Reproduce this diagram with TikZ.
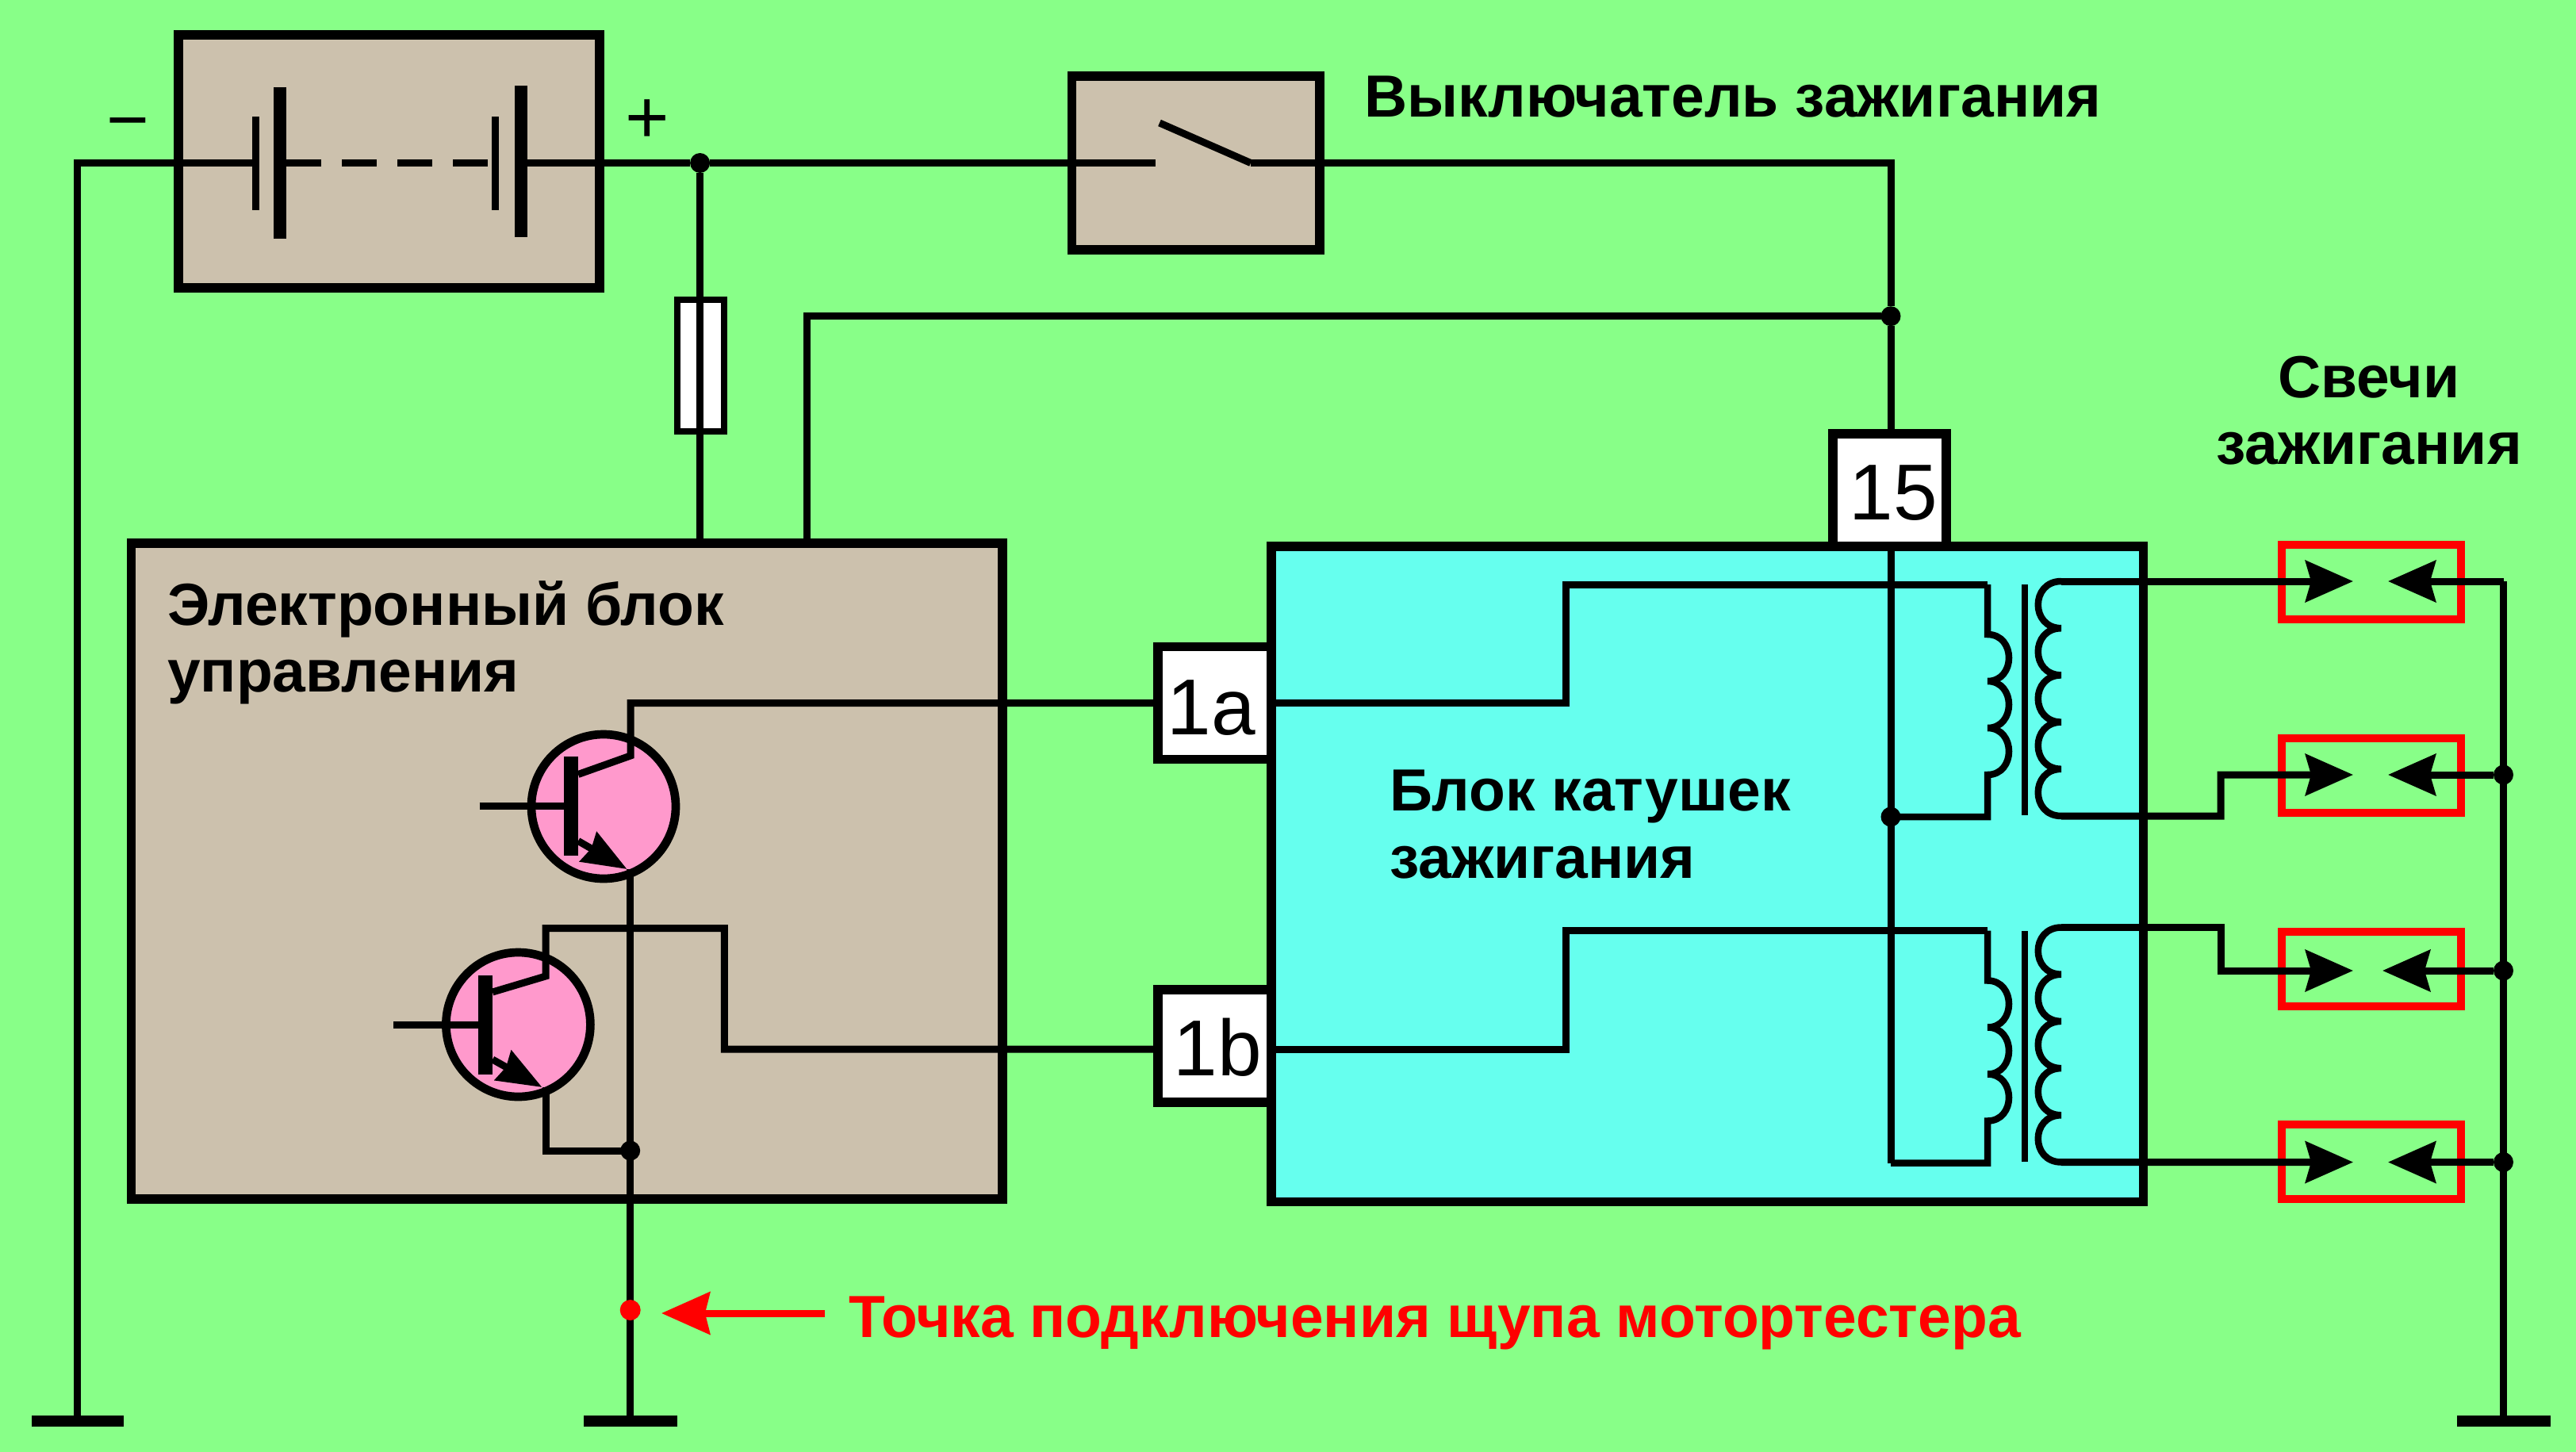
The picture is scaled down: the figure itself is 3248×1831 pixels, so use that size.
\documentclass[tikz,border=0pt]{standalone}
\usepackage{fontspec}
\setmainfont{Liberation Sans}
\usetikzlibrary{positioning}
\usetikzlibrary{arrows.meta}
\usepackage{xcolor}
\definecolor{bggreen}{RGB}{136,255,136}
\definecolor{tanbox}{RGB}{204,193,173}
\definecolor{coilblue}{RGB}{102,255,238}
\definecolor{npnpink}{RGB}{255,153,204}
\tikzset{
    wire/.style={draw, line width=9pt},
    coil/.style={draw, line width=8.5pt},
    tanblock/.style={draw, rectangle, line width=11.7pt, fill=tanbox, inner sep=0pt, outer sep=0pt},
    pinbox/.style={draw, rectangle, line width=11.7pt, fill=white, minimum width=143pt, minimum height=142pt, inner sep=0pt, outer sep=0pt, font=\fontsize{100}{100}\selectfont},
    plate/.style={rectangle, fill=black, inner sep=0pt, outer sep=0pt},
    joint/.style={circle, fill=black, minimum size=25pt, inner sep=0pt, outer sep=0pt},
    npn/.style={draw, circle, line width=10.7pt, fill=npnpink, minimum size=182pt, inner sep=0pt, outer sep=0pt},
    gapbox/.style={draw=red, rectangle, line width=9.5pt, minimum width=226pt, minimum height=94pt, inner sep=0pt, outer sep=0pt},
    gaptip/.style={-{Stealth[length=60pt, width=52pt, inset=7pt]}},
    npntip/.style={-{Stealth[length=56pt, width=42pt, inset=4pt]}},
    caption/.style={inner sep=0pt, outer sep=0pt, font=\fontsize{75}{85}\selectfont\bfseries}
}
\begin{document}
\begin{tikzpicture}[x=1pt, y=-1pt]
    \fill[bggreen] (0,0) rectangle (3248,1831);
    \useasboundingbox (0,0) rectangle (3248,1831);

    % Blocks
    \node (battery) [tanblock, minimum width=531pt, minimum height=319pt] at (490.5,203.5) {};
    \node (switch) [tanblock, minimum width=312.5pt, minimum height=219pt] at (1507.8,205.5) {};
    \node (ecu) [tanblock, minimum width=1098.5pt, minimum height=827pt] at (714.75,1098.5) {};
    \node (coils) [tanblock, fill=coilblue, minimum width=1099.5pt, minimum height=826.5pt] at (2152.75,1102.25) {};
    \node (fuse) [draw, rectangle, line width=8.3pt, fill=white, minimum width=59pt, minimum height=166pt, inner sep=0pt, outer sep=0pt] at (883.25,461) {};

    % Battery cells
    \node (cellaneg) [plate, minimum width=9pt, minimum height=118pt] at (322.7,205.5) {};
    \node (cellapos) [plate, minimum width=16.5pt, minimum height=191pt] at (353,205.5) {};
    \node (cellbneg) [plate, minimum width=9pt, minimum height=118pt] at (624,205.5) {};
    \node (cellbpos) [plate, minimum width=16.5pt, minimum height=191pt] at (657,203) {};

    % Ground bars and junctions
    \node (gndleft) [plate, minimum width=116pt, minimum height=14pt] at (97.6,1792) {};
    \node (gndmid) [plate, minimum width=118pt, minimum height=14pt] at (794.7,1792) {};
    \node (gndright) [plate, minimum width=118pt, minimum height=14pt] at (3156.5,1792) {};
    \node (jplus) [joint] at (882.6,205.5) {};
    \node (jsupply) [joint] at (2384,398.7) {};
    \node (jprim) [joint] at (2384,1030) {};
    \coordinate (jemit) at (794.7,1451);
    \coordinate (probe) at (794.7,1652);

    % Battery and supply wiring
    \draw[wire] (gndleft.center) |- (cellaneg.west);
    \draw[wire, dash pattern=on 44pt off 26pt] (cellapos.east) -- (cellapos.east -| cellbneg.west);
    \draw[wire] (cellbpos.east |- jplus) -- (jplus);
    \coordinate (swleft) at (1457,205.5);
    \coordinate (swright) at (1577,205.5);
    \coordinate (swarm) at (1462,155);
    \draw[wire] (jplus) -- (swleft);
    \draw[wire] (swright) -- (swarm);
    \draw[wire] (swright) -| (jsupply);
    \draw[wire] (jplus) -- (jplus |- ecu.north);
    \coordinate (ecufeed) at (1017,685);
    \draw[wire] (ecufeed) |- (jsupply);

    % Spark gaps
    \foreach \n/\yb/\yw/\xr in {1/734/733/3011, 2/978/977/3011, 3/1222/1224/3004, 4/1465/1465.5/3011} {
        \node (gap\n) [gapbox] at (2990,\yb) {};
        \coordinate (gapl\n) at (2967,\yw);
        \coordinate (gapr\n) at (\xr,\yw);
    }

    % Ignition transformers
    \foreach \t/\dy in {a/0, b/436.5} {
        \node (core\t) [plate, minimum width=8.7pt, minimum height=291pt] at (2553,882.5+\dy) {};
        \coordinate (prim\t) at (2506,737+\dy);
        \coordinate (primend\t) at (2384,1030+\dy);
        \coordinate (sec\t) at (2599,733+\dy);
        \draw[coil] (prim\t) -- (2506,800+\dy)
            \foreach \k in {0,1,2} {
                .. controls (2542,{800+\dy+59*\k}) and (2542,{859+\dy+59*\k}) .. (2506,{859+\dy+59*\k})
            }
            -- (2506,1030+\dy) -- (primend\t);
        \draw[coil] (sec\t)
            \foreach \k in {0,1,2,3,4} {
                .. controls (2560,{733+\dy+59.2*\k}) and (2560,{792.2+\dy+59.2*\k}) .. (2599,{792.2+\dy+59.2*\k})
            }
            coordinate (secend\t);
    }

    % Secondary wiring to the plugs
    \coordinate (kinka) at (2800,1029);
    \coordinate (kinkb) at (2800,1169.5);
    \draw[wire, gaptip] (seca) -- (gapl1);
    \draw[wire, gaptip] (secenda) -- (kinka) |- (gapl2);
    \draw[wire, gaptip] (secb) -- (kinkb) |- (gapl3);
    \draw[wire, gaptip] (secendb) -- (gapl4);
    \draw[wire] (gndright.center) -- (gndright.center |- gapr1);
    \draw[wire, gaptip] (gndright.center |- gapr1) -- (gapr1);
    \foreach \n in {2,3,4} {
        \node (jgap\n) [joint] at (gndright.center |- gapr\n) {};
        \draw[wire, gaptip] (jgap\n) -- (gapr\n);
    }

    % Upper transistor
    \node (npna) [npn] at (761,1017) {};
    \node (bara) [plate, minimum width=18pt, minimum height=125pt] at (720,1016.5) {};
    \coordinate (basea) at (604.5,1016.5);
    \coordinate (colla) at (795,953);
    \coordinate (emita) at (790.6,1096);
    \coordinate (emitwire) at (794.7,1096);

    % Lower transistor
    \node (npnb) [npn] at (653.4,1292) {};
    \node (barb) [plate, minimum width=18pt, minimum height=125pt] at (612,1292) {};
    \coordinate (baseb) at (496.4,1292);
    \coordinate (collb) at (688,1231);
    \coordinate (emitb) at (683.5,1371);
    \coordinate (emitbwire) at (688,1371);
    \coordinate (collcross) at (913.4,1170.5);
    \coordinate (collturn) at (913.4,1323);

    % Pins
    \node (pinfifteen) [pinbox, text height=76pt] at (2382.5,618.25) {\hspace{10pt}15};
    \node (pina) [pinbox, text height=81pt] at (1531.5,886.5) {\hspace{-8pt}1a};
    \node (pinb) [pinbox, text height=76pt, below of=pina, node distance=432.5pt] {\hspace{8pt}1b};

    % Transistor wiring
    \draw[wire] (basea) -- (bara.west);
    \draw[wire] ([yshift=40pt]bara.east) -- (colla) |- (pina.west);
    \draw[wire, npntip] ([yshift=-44pt]bara.east) -- (emita);
    \draw[wire] (baseb) -- (barb.west);
    \draw[wire] ([yshift=41pt]barb.east) -- (collb) |- (collcross) -- (collturn) -- (collturn -| pinb.west);
    \draw[wire, npntip] ([yshift=-44pt]barb.east) -- (emitb);
    \draw[wire] (emitbwire) |- (jemit);
    \draw[wire] (emitwire) -- (gndmid.center);
    \node (jemitc) [joint] at (jemit) {};
    \node (probec) [circle, fill=red, minimum size=26pt, inner sep=0pt] at (probe) {};

    % Coil block wiring
    \coordinate (feeda) at (1974,737);
    \coordinate (feedb) at (1974,1173.5);
    \draw[wire] (pina.east) -| (feeda) -- (prima);
    \draw[wire] (collturn -| pinb.east) -| (feedb) -- (primb);
    \draw[wire] (jsupply) -- (jsupply |- pinfifteen.north);
    \draw[wire] (jsupply |- pinfifteen.south) -- (primendb);

    % Probe pointer
    \coordinate (pointertail) at (1040,1656);
    \coordinate (pointertip) at (834,1656);
    \draw[wire, red, -{Stealth[length=61pt, width=53pt, inset=6pt]}] (pointertail) -- (pointertip);

    % Labels
    \node (minus) [inner sep=0pt, font=\fontsize{92}{92}\selectfont] at (161.5,166) {−};
    \node (plus) [inner sep=0pt, font=\fontsize{95}{95}\selectfont] at (816,153) {+};
    \node (swlabel) [caption, anchor=base west] at (1720,147.7) {Выключатель зажигания};
    \node (ecualabel) [caption, anchor=base west] at (211,788) {Электронный блок};
    \node (ecublabel) [caption, anchor=base west] at (211,872) {управления};
    \node (coilalabel) [caption, anchor=base west] at (1752,1022) {Блок катушек};
    \node (coilblabel) [caption, anchor=base west] at (1752,1107.7) {зажигания};
    \node (plugalabel) [caption, anchor=base] at (2987,501) {Свечи};
    \node (plugblabel) [caption, anchor=base] at (2987,585) {зажигания};
    \node (probelabel) [caption, red, anchor=base west] at (1070,1686) {Точка подключения щупа мотортестера};
\end{tikzpicture}
\end{document}
